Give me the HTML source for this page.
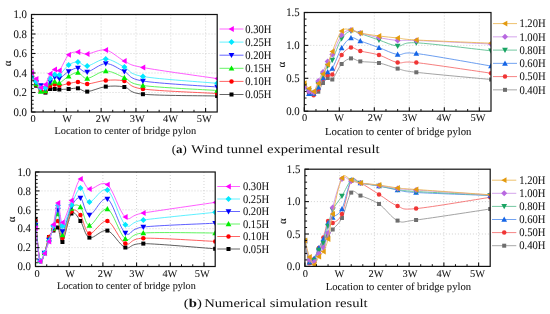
<!DOCTYPE html>
<html><head><meta charset="utf-8"><style>
html,body{margin:0;padding:0;background:#fff;}
body{width:550px;height:314px;overflow:hidden;}
svg{display:block;}
text{font-family:'Liberation Serif', 'Times New Roman', serif;fill:#111;stroke:#111;stroke-width:0.05px;text-rendering:geometricPrecision;}
</style></head><body>
<svg width="550" height="314" viewBox="0 0 550 314">
<rect width="550" height="314" fill="#fff"/>
<clipPath id="c0"><rect x="31.50" y="8.50" width="185.70" height="103.50"/></clipPath>
<line x1="31.50" y1="92.50" x2="217.20" y2="92.50" stroke="#c8c8c8" stroke-width="0.8" stroke-dasharray="1,2"/>
<line x1="31.50" y1="73.00" x2="217.20" y2="73.00" stroke="#c8c8c8" stroke-width="0.8" stroke-dasharray="1,2"/>
<line x1="31.50" y1="53.50" x2="217.20" y2="53.50" stroke="#c8c8c8" stroke-width="0.8" stroke-dasharray="1,2"/>
<line x1="31.50" y1="34.00" x2="217.20" y2="34.00" stroke="#c8c8c8" stroke-width="0.8" stroke-dasharray="1,2"/>
<line x1="66.32" y1="14.50" x2="66.32" y2="112.00" stroke="#c8c8c8" stroke-width="0.8" stroke-dasharray="1,2"/>
<line x1="101.14" y1="14.50" x2="101.14" y2="112.00" stroke="#c8c8c8" stroke-width="0.8" stroke-dasharray="1,2"/>
<line x1="135.96" y1="14.50" x2="135.96" y2="112.00" stroke="#c8c8c8" stroke-width="0.8" stroke-dasharray="1,2"/>
<line x1="170.78" y1="14.50" x2="170.78" y2="112.00" stroke="#c8c8c8" stroke-width="0.8" stroke-dasharray="1,2"/>
<line x1="205.59" y1="14.50" x2="205.59" y2="112.00" stroke="#c8c8c8" stroke-width="0.8" stroke-dasharray="1,2"/>
<g clip-path="url(#c0)">
<path d="M31.50,76.50 C32.27,78.03 34.59,83.28 36.14,85.70 C37.69,88.12 39.24,89.85 40.78,91.00 C42.33,92.15 43.88,92.93 45.43,92.60 C46.98,92.27 48.52,89.60 50.07,89.00 C51.62,88.40 53.16,88.92 54.71,89.00 C56.26,89.08 57.03,89.50 59.36,89.50 C61.68,89.50 65.55,89.20 68.64,89.00 C71.73,88.80 74.83,87.87 77.92,88.30 C81.02,88.73 82.57,91.88 87.21,91.60 C91.85,91.32 99.59,87.37 105.78,86.60 C111.97,85.83 118.16,85.73 124.35,87.00 C130.54,88.27 127.45,92.70 142.92,94.20 C158.40,95.70 204.82,95.70 217.20,96.00" fill="none" stroke="#4c4c4c" stroke-width="0.9"/>
<rect x="29.50" y="74.50" width="4.00" height="4.00" fill="#000000"/>
<rect x="34.14" y="83.70" width="4.00" height="4.00" fill="#000000"/>
<rect x="38.78" y="89.00" width="4.00" height="4.00" fill="#000000"/>
<rect x="43.43" y="90.60" width="4.00" height="4.00" fill="#000000"/>
<rect x="48.07" y="87.00" width="4.00" height="4.00" fill="#000000"/>
<rect x="52.71" y="87.00" width="4.00" height="4.00" fill="#000000"/>
<rect x="57.36" y="87.50" width="4.00" height="4.00" fill="#000000"/>
<rect x="66.64" y="87.00" width="4.00" height="4.00" fill="#000000"/>
<rect x="75.92" y="86.30" width="4.00" height="4.00" fill="#000000"/>
<rect x="85.21" y="89.60" width="4.00" height="4.00" fill="#000000"/>
<rect x="103.78" y="84.60" width="4.00" height="4.00" fill="#000000"/>
<rect x="122.35" y="85.00" width="4.00" height="4.00" fill="#000000"/>
<rect x="140.92" y="92.20" width="4.00" height="4.00" fill="#000000"/>
<rect x="215.20" y="94.00" width="4.00" height="4.00" fill="#000000"/>
<path d="M31.50,75.50 C32.27,77.00 34.59,81.92 36.14,84.50 C37.69,87.08 39.24,89.83 40.78,91.00 C42.33,92.17 43.88,92.33 45.43,91.50 C46.98,90.67 48.52,87.17 50.07,86.00 C51.62,84.83 53.16,84.58 54.71,84.50 C56.26,84.42 57.03,85.65 59.36,85.50 C61.68,85.35 65.55,84.18 68.64,83.60 C71.73,83.02 74.83,81.93 77.92,82.00 C81.02,82.07 82.57,84.27 87.21,84.00 C91.85,83.73 99.59,80.90 105.78,80.40 C111.97,79.90 118.16,79.57 124.35,81.00 C130.54,82.43 127.45,86.92 142.92,89.00 C158.40,91.08 204.82,92.75 217.20,93.50" fill="none" stroke="#ff4c4c" stroke-width="0.9"/>
<circle cx="31.50" cy="75.50" r="2.25" fill="#ff0000"/>
<circle cx="36.14" cy="84.50" r="2.25" fill="#ff0000"/>
<circle cx="40.78" cy="91.00" r="2.25" fill="#ff0000"/>
<circle cx="45.43" cy="91.50" r="2.25" fill="#ff0000"/>
<circle cx="50.07" cy="86.00" r="2.25" fill="#ff0000"/>
<circle cx="54.71" cy="84.50" r="2.25" fill="#ff0000"/>
<circle cx="59.36" cy="85.50" r="2.25" fill="#ff0000"/>
<circle cx="68.64" cy="83.60" r="2.25" fill="#ff0000"/>
<circle cx="77.92" cy="82.00" r="2.25" fill="#ff0000"/>
<circle cx="87.21" cy="84.00" r="2.25" fill="#ff0000"/>
<circle cx="105.78" cy="80.40" r="2.25" fill="#ff0000"/>
<circle cx="124.35" cy="81.00" r="2.25" fill="#ff0000"/>
<circle cx="142.92" cy="89.00" r="2.25" fill="#ff0000"/>
<circle cx="217.20" cy="93.50" r="2.25" fill="#ff0000"/>
<path d="M31.50,76.00 C32.27,77.33 34.59,81.42 36.14,84.00 C37.69,86.58 39.24,90.33 40.78,91.50 C42.33,92.67 43.88,92.42 45.43,91.00 C46.98,89.58 48.52,84.58 50.07,83.00 C51.62,81.42 53.16,81.50 54.71,81.50 C56.26,81.50 57.03,83.87 59.36,83.00 C61.68,82.13 65.55,78.05 68.64,76.30 C71.73,74.55 74.83,72.15 77.92,72.50 C81.02,72.85 82.57,78.65 87.21,78.40 C91.85,78.15 99.59,71.13 105.78,71.00 C111.97,70.87 118.16,75.18 124.35,77.60 C130.54,80.02 127.45,83.35 142.92,85.50 C158.40,87.65 204.82,89.67 217.20,90.50" fill="none" stroke="#4cf34c" stroke-width="0.9"/>
<polygon points="28.62,78.30 34.38,78.30 31.50,73.12" fill="#00ee00"/>
<polygon points="33.27,86.30 39.02,86.30 36.14,81.12" fill="#00ee00"/>
<polygon points="37.91,93.80 43.66,93.80 40.78,88.62" fill="#00ee00"/>
<polygon points="42.55,93.30 48.30,93.30 45.43,88.12" fill="#00ee00"/>
<polygon points="47.20,85.30 52.95,85.30 50.07,80.12" fill="#00ee00"/>
<polygon points="51.84,83.80 57.59,83.80 54.71,78.62" fill="#00ee00"/>
<polygon points="56.48,85.30 62.23,85.30 59.36,80.12" fill="#00ee00"/>
<polygon points="65.77,78.60 71.52,78.60 68.64,73.42" fill="#00ee00"/>
<polygon points="75.05,74.80 80.80,74.80 77.92,69.62" fill="#00ee00"/>
<polygon points="84.34,80.70 90.09,80.70 87.21,75.53" fill="#00ee00"/>
<polygon points="102.91,73.30 108.66,73.30 105.78,68.12" fill="#00ee00"/>
<polygon points="121.47,79.90 127.22,79.90 124.35,74.72" fill="#00ee00"/>
<polygon points="140.05,87.80 145.80,87.80 142.92,82.62" fill="#00ee00"/>
<polygon points="214.32,92.80 220.07,92.80 217.20,87.62" fill="#00ee00"/>
<path d="M31.50,73.50 C32.27,75.00 34.59,80.50 36.14,82.50 C37.69,84.50 39.24,84.50 40.78,85.50 C42.33,86.50 43.88,89.08 45.43,88.50 C46.98,87.92 48.52,83.92 50.07,82.00 C51.62,80.08 53.16,77.58 54.71,77.00 C56.26,76.42 57.03,79.42 59.36,78.50 C61.68,77.58 65.55,73.25 68.64,71.50 C71.73,69.75 74.83,67.92 77.92,68.00 C81.02,68.08 82.57,72.73 87.21,72.00 C91.85,71.27 99.59,63.67 105.78,63.60 C111.97,63.53 118.16,68.70 124.35,71.60 C130.54,74.50 127.45,78.43 142.92,81.00 C158.40,83.57 204.82,86.00 217.20,87.00" fill="none" stroke="#4c4cff" stroke-width="0.9"/>
<polygon points="28.62,71.20 34.38,71.20 31.50,76.38" fill="#0000ff"/>
<polygon points="33.27,80.20 39.02,80.20 36.14,85.38" fill="#0000ff"/>
<polygon points="37.91,83.20 43.66,83.20 40.78,88.38" fill="#0000ff"/>
<polygon points="42.55,86.20 48.30,86.20 45.43,91.38" fill="#0000ff"/>
<polygon points="47.20,79.70 52.95,79.70 50.07,84.88" fill="#0000ff"/>
<polygon points="51.84,74.70 57.59,74.70 54.71,79.88" fill="#0000ff"/>
<polygon points="56.48,76.20 62.23,76.20 59.36,81.38" fill="#0000ff"/>
<polygon points="65.77,69.20 71.52,69.20 68.64,74.38" fill="#0000ff"/>
<polygon points="75.05,65.70 80.80,65.70 77.92,70.88" fill="#0000ff"/>
<polygon points="84.34,69.70 90.09,69.70 87.21,74.88" fill="#0000ff"/>
<polygon points="102.91,61.30 108.66,61.30 105.78,66.47" fill="#0000ff"/>
<polygon points="121.47,69.30 127.22,69.30 124.35,74.47" fill="#0000ff"/>
<polygon points="140.05,78.70 145.80,78.70 142.92,83.88" fill="#0000ff"/>
<polygon points="214.32,84.70 220.07,84.70 217.20,89.88" fill="#0000ff"/>
<path d="M31.50,77.00 C32.27,77.78 34.59,79.87 36.14,81.70 C37.69,83.53 39.24,87.00 40.78,88.00 C42.33,89.00 43.88,89.28 45.43,87.70 C46.98,86.12 48.52,80.70 50.07,78.50 C51.62,76.30 53.16,75.08 54.71,74.50 C56.26,73.92 57.03,76.58 59.36,75.00 C61.68,73.42 65.55,67.17 68.64,65.00 C71.73,62.83 74.83,61.83 77.92,62.00 C81.02,62.17 82.57,66.50 87.21,66.00 C91.85,65.50 99.59,58.83 105.78,59.00 C111.97,59.17 118.16,64.08 124.35,67.00 C130.54,69.92 127.45,73.78 142.92,76.50 C158.40,79.22 204.82,82.17 217.20,83.30" fill="none" stroke="#4ceeff" stroke-width="0.9"/>
<polygon points="31.50,74.00 34.50,77.00 31.50,80.00 28.50,77.00" fill="#00e8ff"/>
<polygon points="36.14,78.70 39.14,81.70 36.14,84.70 33.14,81.70" fill="#00e8ff"/>
<polygon points="40.78,85.00 43.78,88.00 40.78,91.00 37.78,88.00" fill="#00e8ff"/>
<polygon points="45.43,84.70 48.43,87.70 45.43,90.70 42.43,87.70" fill="#00e8ff"/>
<polygon points="50.07,75.50 53.07,78.50 50.07,81.50 47.07,78.50" fill="#00e8ff"/>
<polygon points="54.71,71.50 57.71,74.50 54.71,77.50 51.71,74.50" fill="#00e8ff"/>
<polygon points="59.36,72.00 62.36,75.00 59.36,78.00 56.36,75.00" fill="#00e8ff"/>
<polygon points="68.64,62.00 71.64,65.00 68.64,68.00 65.64,65.00" fill="#00e8ff"/>
<polygon points="77.92,59.00 80.92,62.00 77.92,65.00 74.92,62.00" fill="#00e8ff"/>
<polygon points="87.21,63.00 90.21,66.00 87.21,69.00 84.21,66.00" fill="#00e8ff"/>
<polygon points="105.78,56.00 108.78,59.00 105.78,62.00 102.78,59.00" fill="#00e8ff"/>
<polygon points="124.35,64.00 127.35,67.00 124.35,70.00 121.35,67.00" fill="#00e8ff"/>
<polygon points="142.92,73.50 145.92,76.50 142.92,79.50 139.92,76.50" fill="#00e8ff"/>
<polygon points="217.20,80.30 220.20,83.30 217.20,86.30 214.20,83.30" fill="#00e8ff"/>
<path d="M31.50,72.60 C32.27,73.63 34.59,76.28 36.14,78.80 C37.69,81.32 39.24,86.75 40.78,87.70 C42.33,88.65 43.88,86.82 45.43,84.50 C46.98,82.18 48.52,76.30 50.07,73.80 C51.62,71.30 53.16,70.05 54.71,69.50 C56.26,68.95 57.03,72.95 59.36,70.50 C61.68,68.05 65.55,57.88 68.64,54.80 C71.73,51.72 74.83,52.13 77.92,52.00 C81.02,51.87 82.57,54.33 87.21,54.00 C91.85,53.67 99.59,48.83 105.78,50.00 C111.97,51.17 118.16,58.08 124.35,61.00 C130.54,63.92 127.45,64.57 142.92,67.50 C158.40,70.43 204.82,76.75 217.20,78.60" fill="none" stroke="#ff4cff" stroke-width="0.9"/>
<polygon points="28.62,72.60 33.80,69.72 33.80,75.47" fill="#ff00ff"/>
<polygon points="33.27,78.80 38.44,75.92 38.44,81.67" fill="#ff00ff"/>
<polygon points="37.91,87.70 43.08,84.83 43.08,90.58" fill="#ff00ff"/>
<polygon points="42.55,84.50 47.73,81.62 47.73,87.38" fill="#ff00ff"/>
<polygon points="47.20,73.80 52.37,70.92 52.37,76.67" fill="#ff00ff"/>
<polygon points="51.84,69.50 57.01,66.62 57.01,72.38" fill="#ff00ff"/>
<polygon points="56.48,70.50 61.66,67.62 61.66,73.38" fill="#ff00ff"/>
<polygon points="65.77,54.80 70.94,51.92 70.94,57.67" fill="#ff00ff"/>
<polygon points="75.05,52.00 80.22,49.12 80.22,54.88" fill="#ff00ff"/>
<polygon points="84.34,54.00 89.51,51.12 89.51,56.88" fill="#ff00ff"/>
<polygon points="102.91,50.00 108.08,47.12 108.08,52.88" fill="#ff00ff"/>
<polygon points="121.47,61.00 126.65,58.12 126.65,63.88" fill="#ff00ff"/>
<polygon points="140.05,67.50 145.22,64.62 145.22,70.38" fill="#ff00ff"/>
<polygon points="214.32,78.60 219.50,75.72 219.50,81.47" fill="#ff00ff"/>
</g>
<line x1="31.50" y1="112.00" x2="35.50" y2="112.00" stroke="#111" stroke-width="1.1"/>
<line x1="31.50" y1="108.10" x2="33.70" y2="108.10" stroke="#111" stroke-width="1"/>
<line x1="31.50" y1="104.20" x2="33.70" y2="104.20" stroke="#111" stroke-width="1"/>
<line x1="31.50" y1="100.30" x2="33.70" y2="100.30" stroke="#111" stroke-width="1"/>
<line x1="31.50" y1="96.40" x2="33.70" y2="96.40" stroke="#111" stroke-width="1"/>
<text x="0" y="3.45" text-anchor="end" font-size="10.6" transform="translate(26.90 112.00) scale(1.02 1.1)">0.0</text>
<line x1="31.50" y1="92.50" x2="35.50" y2="92.50" stroke="#111" stroke-width="1.1"/>
<line x1="31.50" y1="88.60" x2="33.70" y2="88.60" stroke="#111" stroke-width="1"/>
<line x1="31.50" y1="84.70" x2="33.70" y2="84.70" stroke="#111" stroke-width="1"/>
<line x1="31.50" y1="80.80" x2="33.70" y2="80.80" stroke="#111" stroke-width="1"/>
<line x1="31.50" y1="76.90" x2="33.70" y2="76.90" stroke="#111" stroke-width="1"/>
<text x="0" y="3.45" text-anchor="end" font-size="10.6" transform="translate(26.90 92.50) scale(1.02 1.1)">0.2</text>
<line x1="31.50" y1="73.00" x2="35.50" y2="73.00" stroke="#111" stroke-width="1.1"/>
<line x1="31.50" y1="69.10" x2="33.70" y2="69.10" stroke="#111" stroke-width="1"/>
<line x1="31.50" y1="65.20" x2="33.70" y2="65.20" stroke="#111" stroke-width="1"/>
<line x1="31.50" y1="61.30" x2="33.70" y2="61.30" stroke="#111" stroke-width="1"/>
<line x1="31.50" y1="57.40" x2="33.70" y2="57.40" stroke="#111" stroke-width="1"/>
<text x="0" y="3.45" text-anchor="end" font-size="10.6" transform="translate(26.90 73.00) scale(1.02 1.1)">0.4</text>
<line x1="31.50" y1="53.50" x2="35.50" y2="53.50" stroke="#111" stroke-width="1.1"/>
<line x1="31.50" y1="49.60" x2="33.70" y2="49.60" stroke="#111" stroke-width="1"/>
<line x1="31.50" y1="45.70" x2="33.70" y2="45.70" stroke="#111" stroke-width="1"/>
<line x1="31.50" y1="41.80" x2="33.70" y2="41.80" stroke="#111" stroke-width="1"/>
<line x1="31.50" y1="37.90" x2="33.70" y2="37.90" stroke="#111" stroke-width="1"/>
<text x="0" y="3.45" text-anchor="end" font-size="10.6" transform="translate(26.90 53.50) scale(1.02 1.1)">0.6</text>
<line x1="31.50" y1="34.00" x2="35.50" y2="34.00" stroke="#111" stroke-width="1.1"/>
<line x1="31.50" y1="30.10" x2="33.70" y2="30.10" stroke="#111" stroke-width="1"/>
<line x1="31.50" y1="26.20" x2="33.70" y2="26.20" stroke="#111" stroke-width="1"/>
<line x1="31.50" y1="22.30" x2="33.70" y2="22.30" stroke="#111" stroke-width="1"/>
<line x1="31.50" y1="18.40" x2="33.70" y2="18.40" stroke="#111" stroke-width="1"/>
<text x="0" y="3.45" text-anchor="end" font-size="10.6" transform="translate(26.90 34.00) scale(1.02 1.1)">0.8</text>
<line x1="31.50" y1="14.50" x2="35.50" y2="14.50" stroke="#111" stroke-width="1.1"/>
<text x="0" y="3.45" text-anchor="end" font-size="10.6" transform="translate(26.90 14.50) scale(1.02 1.1)">1.0</text>
<line x1="31.50" y1="112.00" x2="31.50" y2="108.00" stroke="#111" stroke-width="1.1"/>
<line x1="43.11" y1="112.00" x2="43.11" y2="109.80" stroke="#111" stroke-width="1"/>
<line x1="54.71" y1="112.00" x2="54.71" y2="109.80" stroke="#111" stroke-width="1"/>
<text x="33.20" y="121.80" text-anchor="middle" font-size="10.4">0</text>
<line x1="66.32" y1="112.00" x2="66.32" y2="108.00" stroke="#111" stroke-width="1.1"/>
<line x1="77.92" y1="112.00" x2="77.92" y2="109.80" stroke="#111" stroke-width="1"/>
<line x1="89.53" y1="112.00" x2="89.53" y2="109.80" stroke="#111" stroke-width="1"/>
<text x="67.25" y="121.80" text-anchor="middle" font-size="10.4">W</text>
<line x1="101.14" y1="112.00" x2="101.14" y2="108.00" stroke="#111" stroke-width="1.1"/>
<line x1="112.74" y1="112.00" x2="112.74" y2="109.80" stroke="#111" stroke-width="1"/>
<line x1="124.35" y1="112.00" x2="124.35" y2="109.80" stroke="#111" stroke-width="1"/>
<text x="103.25" y="121.80" text-anchor="middle" font-size="10.4">2W</text>
<line x1="135.96" y1="112.00" x2="135.96" y2="108.00" stroke="#111" stroke-width="1.1"/>
<line x1="147.56" y1="112.00" x2="147.56" y2="109.80" stroke="#111" stroke-width="1"/>
<line x1="159.17" y1="112.00" x2="159.17" y2="109.80" stroke="#111" stroke-width="1"/>
<text x="137.25" y="121.80" text-anchor="middle" font-size="10.4">3W</text>
<line x1="170.78" y1="112.00" x2="170.78" y2="108.00" stroke="#111" stroke-width="1.1"/>
<line x1="182.38" y1="112.00" x2="182.38" y2="109.80" stroke="#111" stroke-width="1"/>
<line x1="193.99" y1="112.00" x2="193.99" y2="109.80" stroke="#111" stroke-width="1"/>
<text x="170.50" y="121.80" text-anchor="middle" font-size="10.4">4W</text>
<line x1="205.59" y1="112.00" x2="205.59" y2="108.00" stroke="#111" stroke-width="1.1"/>
<text x="204.25" y="121.80" text-anchor="middle" font-size="10.4">5W</text>
<rect x="31.50" y="14.50" width="185.70" height="97.50" fill="none" stroke="#111" stroke-width="1.2"/>
<text x="0" y="0" font-size="11" text-anchor="middle" dominant-baseline="central" transform="translate(7.60 63.30) rotate(-90)">α</text>
<text x="54.40" y="134.00" font-size="10.36">Location to center of bridge pylon</text>
<line x1="219.50" y1="29.00" x2="243.50" y2="29.00" stroke="#ff66ff" stroke-width="1"/>
<polygon points="228.62,29.00 233.80,26.12 233.80,31.88" fill="#ff00ff"/>
<text x="0" y="3.45" font-size="10.6" transform="translate(245.20 29.00) scale(1.0 1.1)">0.30H</text>
<line x1="219.50" y1="42.10" x2="243.50" y2="42.10" stroke="#66f1ff" stroke-width="1"/>
<polygon points="231.50,39.10 234.50,42.10 231.50,45.10 228.50,42.10" fill="#00e8ff"/>
<text x="0" y="3.45" font-size="10.6" transform="translate(245.20 42.10) scale(1.0 1.1)">0.25H</text>
<line x1="219.50" y1="55.20" x2="243.50" y2="55.20" stroke="#6666ff" stroke-width="1"/>
<polygon points="228.62,52.90 234.38,52.90 231.50,58.08" fill="#0000ff"/>
<text x="0" y="3.45" font-size="10.6" transform="translate(245.20 55.20) scale(1.0 1.1)">0.20H</text>
<line x1="219.50" y1="68.30" x2="243.50" y2="68.30" stroke="#66f466" stroke-width="1"/>
<polygon points="228.62,70.60 234.38,70.60 231.50,65.42" fill="#00ee00"/>
<text x="0" y="3.45" font-size="10.6" transform="translate(245.20 68.30) scale(1.0 1.1)">0.15H</text>
<line x1="219.50" y1="81.40" x2="243.50" y2="81.40" stroke="#ff6666" stroke-width="1"/>
<circle cx="231.50" cy="81.40" r="2.25" fill="#ff0000"/>
<text x="0" y="3.45" font-size="10.6" transform="translate(245.20 81.40) scale(1.0 1.1)">0.10H</text>
<line x1="219.50" y1="94.50" x2="243.50" y2="94.50" stroke="#666666" stroke-width="1"/>
<rect x="229.50" y="92.50" width="4.00" height="4.00" fill="#000000"/>
<text x="0" y="3.45" font-size="10.6" transform="translate(245.20 94.50) scale(1.0 1.1)">0.05H</text>
<clipPath id="c1"><rect x="304.30" y="6.50" width="186.70" height="104.70"/></clipPath>
<line x1="304.30" y1="78.30" x2="491.00" y2="78.30" stroke="#c8c8c8" stroke-width="0.8" stroke-dasharray="1,2"/>
<line x1="304.30" y1="45.40" x2="491.00" y2="45.40" stroke="#c8c8c8" stroke-width="0.8" stroke-dasharray="1,2"/>
<line x1="339.31" y1="12.50" x2="339.31" y2="111.20" stroke="#c8c8c8" stroke-width="0.8" stroke-dasharray="1,2"/>
<line x1="374.31" y1="12.50" x2="374.31" y2="111.20" stroke="#c8c8c8" stroke-width="0.8" stroke-dasharray="1,2"/>
<line x1="409.32" y1="12.50" x2="409.32" y2="111.20" stroke="#c8c8c8" stroke-width="0.8" stroke-dasharray="1,2"/>
<line x1="444.33" y1="12.50" x2="444.33" y2="111.20" stroke="#c8c8c8" stroke-width="0.8" stroke-dasharray="1,2"/>
<line x1="479.33" y1="12.50" x2="479.33" y2="111.20" stroke="#c8c8c8" stroke-width="0.8" stroke-dasharray="1,2"/>
<g clip-path="url(#c1)">
<path d="M304.30,86.50 C305.08,87.50 307.41,91.25 308.97,92.50 C310.52,93.75 312.08,94.13 313.63,94.00 C315.19,93.87 316.75,93.53 318.30,91.70 C319.86,89.87 321.41,85.28 322.97,83.00 C324.53,80.72 326.08,78.58 327.64,78.00 C329.19,77.42 329.97,81.83 332.31,79.50 C334.64,77.17 338.53,67.52 341.64,64.00 C344.75,60.48 347.86,58.83 350.98,58.40 C354.09,57.97 355.64,60.63 360.31,61.40 C364.98,62.17 372.76,61.80 378.98,63.00 C385.20,64.20 391.43,67.05 397.65,68.60 C403.87,70.15 400.76,70.48 416.32,72.30 C431.88,74.12 478.55,78.30 491.00,79.50" fill="none" stroke="#999999" stroke-width="0.9"/>
<rect x="302.30" y="84.50" width="4.00" height="4.00" fill="#6e6e6e"/>
<rect x="306.97" y="90.50" width="4.00" height="4.00" fill="#6e6e6e"/>
<rect x="311.63" y="92.00" width="4.00" height="4.00" fill="#6e6e6e"/>
<rect x="316.30" y="89.70" width="4.00" height="4.00" fill="#6e6e6e"/>
<rect x="320.97" y="81.00" width="4.00" height="4.00" fill="#6e6e6e"/>
<rect x="325.64" y="76.00" width="4.00" height="4.00" fill="#6e6e6e"/>
<rect x="330.31" y="77.50" width="4.00" height="4.00" fill="#6e6e6e"/>
<rect x="339.64" y="62.00" width="4.00" height="4.00" fill="#6e6e6e"/>
<rect x="348.98" y="56.40" width="4.00" height="4.00" fill="#6e6e6e"/>
<rect x="358.31" y="59.40" width="4.00" height="4.00" fill="#6e6e6e"/>
<rect x="376.98" y="61.00" width="4.00" height="4.00" fill="#6e6e6e"/>
<rect x="395.65" y="66.60" width="4.00" height="4.00" fill="#6e6e6e"/>
<rect x="414.32" y="70.30" width="4.00" height="4.00" fill="#6e6e6e"/>
<rect x="489.00" y="77.50" width="4.00" height="4.00" fill="#6e6e6e"/>
<path d="M304.30,86.00 C305.08,87.08 307.41,90.97 308.97,92.50 C310.52,94.03 312.08,95.75 313.63,95.20 C315.19,94.65 316.75,91.90 318.30,89.20 C319.86,86.50 321.41,81.37 322.97,79.00 C324.53,76.63 326.08,75.75 327.64,75.00 C329.19,74.25 329.97,77.83 332.31,74.50 C334.64,71.17 338.53,59.48 341.64,55.00 C344.75,50.52 347.86,48.27 350.98,47.60 C354.09,46.93 355.64,49.77 360.31,51.00 C364.98,52.23 372.76,53.07 378.98,55.00 C385.20,56.93 391.43,61.33 397.65,62.60 C403.87,63.87 400.76,60.83 416.32,62.60 C431.88,64.37 478.55,71.43 491.00,73.20" fill="none" stroke="#f47171" stroke-width="0.9"/>
<circle cx="304.30" cy="86.00" r="2.25" fill="#f03535"/>
<circle cx="308.97" cy="92.50" r="2.25" fill="#f03535"/>
<circle cx="313.63" cy="95.20" r="2.25" fill="#f03535"/>
<circle cx="318.30" cy="89.20" r="2.25" fill="#f03535"/>
<circle cx="322.97" cy="79.00" r="2.25" fill="#f03535"/>
<circle cx="327.64" cy="75.00" r="2.25" fill="#f03535"/>
<circle cx="332.31" cy="74.50" r="2.25" fill="#f03535"/>
<circle cx="341.64" cy="55.00" r="2.25" fill="#f03535"/>
<circle cx="350.98" cy="47.60" r="2.25" fill="#f03535"/>
<circle cx="360.31" cy="51.00" r="2.25" fill="#f03535"/>
<circle cx="378.98" cy="55.00" r="2.25" fill="#f03535"/>
<circle cx="397.65" cy="62.60" r="2.25" fill="#f03535"/>
<circle cx="416.32" cy="62.60" r="2.25" fill="#f03535"/>
<circle cx="491.00" cy="73.20" r="2.25" fill="#f03535"/>
<path d="M304.30,86.50 C305.08,87.72 307.41,92.63 308.97,93.80 C310.52,94.97 312.08,94.60 313.63,93.50 C315.19,92.40 316.75,89.78 318.30,87.20 C319.86,84.62 321.41,80.53 322.97,78.00 C324.53,75.47 326.08,73.58 327.64,72.00 C329.19,70.42 329.97,72.50 332.31,68.50 C334.64,64.50 338.53,53.08 341.64,48.00 C344.75,42.92 347.86,39.17 350.98,38.00 C354.09,36.83 355.64,39.40 360.31,41.00 C364.98,42.60 372.76,45.35 378.98,47.60 C385.20,49.85 391.43,53.52 397.65,54.50 C403.87,55.48 400.76,51.58 416.32,53.50 C431.88,55.42 478.55,63.92 491.00,66.00" fill="none" stroke="#5b93ed" stroke-width="0.9"/>
<polygon points="301.43,88.80 307.18,88.80 304.30,83.62" fill="#1565e6"/>
<polygon points="306.09,96.10 311.84,96.10 308.97,90.92" fill="#1565e6"/>
<polygon points="310.76,95.80 316.51,95.80 313.63,90.62" fill="#1565e6"/>
<polygon points="315.43,89.50 321.18,89.50 318.30,84.33" fill="#1565e6"/>
<polygon points="320.10,80.30 325.85,80.30 322.97,75.12" fill="#1565e6"/>
<polygon points="324.76,74.30 330.51,74.30 327.64,69.12" fill="#1565e6"/>
<polygon points="329.43,70.80 335.18,70.80 332.31,65.62" fill="#1565e6"/>
<polygon points="338.76,50.30 344.51,50.30 341.64,45.12" fill="#1565e6"/>
<polygon points="348.10,40.30 353.85,40.30 350.98,35.12" fill="#1565e6"/>
<polygon points="357.44,43.30 363.19,43.30 360.31,38.12" fill="#1565e6"/>
<polygon points="376.11,49.90 381.86,49.90 378.98,44.73" fill="#1565e6"/>
<polygon points="394.77,56.80 400.52,56.80 397.65,51.62" fill="#1565e6"/>
<polygon points="413.45,55.80 419.20,55.80 416.32,50.62" fill="#1565e6"/>
<polygon points="488.12,68.30 493.88,68.30 491.00,63.12" fill="#1565e6"/>
<path d="M304.30,85.50 C305.08,86.33 307.41,89.25 308.97,90.50 C310.52,91.75 312.08,94.08 313.63,93.00 C315.19,91.92 316.75,87.00 318.30,84.00 C319.86,81.00 321.41,78.00 322.97,75.00 C324.53,72.00 326.08,68.50 327.64,66.00 C329.19,63.50 329.97,64.57 332.31,60.00 C334.64,55.43 338.53,43.43 341.64,38.60 C344.75,33.77 347.86,31.83 350.98,31.00 C354.09,30.17 355.64,32.10 360.31,33.60 C364.98,35.10 372.76,37.93 378.98,40.00 C385.20,42.07 391.43,45.53 397.65,46.00 C403.87,46.47 400.76,42.00 416.32,42.80 C431.88,43.60 478.55,49.47 491.00,50.80" fill="none" stroke="#5ebf91" stroke-width="0.9"/>
<polygon points="301.43,83.20 307.18,83.20 304.30,88.38" fill="#19a463"/>
<polygon points="306.09,88.20 311.84,88.20 308.97,93.38" fill="#19a463"/>
<polygon points="310.76,90.70 316.51,90.70 313.63,95.88" fill="#19a463"/>
<polygon points="315.43,81.70 321.18,81.70 318.30,86.88" fill="#19a463"/>
<polygon points="320.10,72.70 325.85,72.70 322.97,77.88" fill="#19a463"/>
<polygon points="324.76,63.70 330.51,63.70 327.64,68.88" fill="#19a463"/>
<polygon points="329.43,57.70 335.18,57.70 332.31,62.88" fill="#19a463"/>
<polygon points="338.76,36.30 344.51,36.30 341.64,41.48" fill="#19a463"/>
<polygon points="348.10,28.70 353.85,28.70 350.98,33.88" fill="#19a463"/>
<polygon points="357.44,31.30 363.19,31.30 360.31,36.48" fill="#19a463"/>
<polygon points="376.11,37.70 381.86,37.70 378.98,42.88" fill="#19a463"/>
<polygon points="394.77,43.70 400.52,43.70 397.65,48.88" fill="#19a463"/>
<polygon points="413.45,40.50 419.20,40.50 416.32,45.67" fill="#19a463"/>
<polygon points="488.12,48.50 493.88,48.50 491.00,53.67" fill="#19a463"/>
<path d="M304.30,87.20 C305.08,87.87 307.41,90.32 308.97,91.20 C310.52,92.08 312.08,94.20 313.63,92.50 C315.19,90.80 316.75,84.42 318.30,81.00 C319.86,77.58 321.41,75.25 322.97,72.00 C324.53,68.75 326.08,64.42 327.64,61.50 C329.19,58.58 329.97,58.92 332.31,54.50 C334.64,50.08 338.53,39.08 341.64,35.00 C344.75,30.92 347.86,30.33 350.98,30.00 C354.09,29.67 355.64,31.73 360.31,33.00 C364.98,34.27 372.76,36.35 378.98,37.60 C385.20,38.85 391.43,40.02 397.65,40.50 C403.87,40.98 400.76,39.92 416.32,40.50 C431.88,41.08 478.55,43.42 491.00,44.00" fill="none" stroke="#cd95e9" stroke-width="0.9"/>
<polygon points="304.30,84.20 307.30,87.20 304.30,90.20 301.30,87.20" fill="#b868e0"/>
<polygon points="308.97,88.20 311.97,91.20 308.97,94.20 305.97,91.20" fill="#b868e0"/>
<polygon points="313.63,89.50 316.63,92.50 313.63,95.50 310.63,92.50" fill="#b868e0"/>
<polygon points="318.30,78.00 321.30,81.00 318.30,84.00 315.30,81.00" fill="#b868e0"/>
<polygon points="322.97,69.00 325.97,72.00 322.97,75.00 319.97,72.00" fill="#b868e0"/>
<polygon points="327.64,58.50 330.64,61.50 327.64,64.50 324.64,61.50" fill="#b868e0"/>
<polygon points="332.31,51.50 335.31,54.50 332.31,57.50 329.31,54.50" fill="#b868e0"/>
<polygon points="341.64,32.00 344.64,35.00 341.64,38.00 338.64,35.00" fill="#b868e0"/>
<polygon points="350.98,27.00 353.98,30.00 350.98,33.00 347.98,30.00" fill="#b868e0"/>
<polygon points="360.31,30.00 363.31,33.00 360.31,36.00 357.31,33.00" fill="#b868e0"/>
<polygon points="378.98,34.60 381.98,37.60 378.98,40.60 375.98,37.60" fill="#b868e0"/>
<polygon points="397.65,37.50 400.65,40.50 397.65,43.50 394.65,40.50" fill="#b868e0"/>
<polygon points="416.32,37.50 419.32,40.50 416.32,43.50 413.32,40.50" fill="#b868e0"/>
<polygon points="491.00,41.00 494.00,44.00 491.00,47.00 488.00,44.00" fill="#b868e0"/>
<path d="M304.30,83.20 C305.08,84.10 307.41,87.22 308.97,88.60 C310.52,89.98 312.08,92.37 313.63,91.50 C315.19,90.63 316.75,86.32 318.30,83.40 C319.86,80.48 321.41,77.15 322.97,74.00 C324.53,70.85 326.08,68.25 327.64,64.50 C329.19,60.75 329.97,57.08 332.31,51.50 C334.64,45.92 338.53,34.58 341.64,31.00 C344.75,27.42 347.86,29.67 350.98,30.00 C354.09,30.33 355.64,32.00 360.31,33.00 C364.98,34.00 372.76,35.17 378.98,36.00 C385.20,36.83 391.43,37.33 397.65,38.00 C403.87,38.67 400.76,39.13 416.32,40.00 C431.88,40.87 478.55,42.67 491.00,43.20" fill="none" stroke="#ebb857" stroke-width="0.9"/>
<polygon points="301.43,83.20 306.60,80.33 306.60,86.08" fill="#e39a0f"/>
<polygon points="306.09,88.60 311.27,85.72 311.27,91.47" fill="#e39a0f"/>
<polygon points="310.76,91.50 315.94,88.62 315.94,94.38" fill="#e39a0f"/>
<polygon points="315.43,83.40 320.60,80.53 320.60,86.28" fill="#e39a0f"/>
<polygon points="320.10,74.00 325.27,71.12 325.27,76.88" fill="#e39a0f"/>
<polygon points="324.76,64.50 329.94,61.62 329.94,67.38" fill="#e39a0f"/>
<polygon points="329.43,51.50 334.61,48.62 334.61,54.38" fill="#e39a0f"/>
<polygon points="338.76,31.00 343.94,28.12 343.94,33.88" fill="#e39a0f"/>
<polygon points="348.10,30.00 353.28,27.12 353.28,32.88" fill="#e39a0f"/>
<polygon points="357.44,33.00 362.61,30.12 362.61,35.88" fill="#e39a0f"/>
<polygon points="376.11,36.00 381.28,33.12 381.28,38.88" fill="#e39a0f"/>
<polygon points="394.77,38.00 399.95,35.12 399.95,40.88" fill="#e39a0f"/>
<polygon points="413.45,40.00 418.62,37.12 418.62,42.88" fill="#e39a0f"/>
<polygon points="488.12,43.20 493.30,40.33 493.30,46.08" fill="#e39a0f"/>
</g>
<line x1="304.30" y1="111.20" x2="308.30" y2="111.20" stroke="#111" stroke-width="1.1"/>
<line x1="304.30" y1="104.62" x2="306.50" y2="104.62" stroke="#111" stroke-width="1"/>
<line x1="304.30" y1="98.04" x2="306.50" y2="98.04" stroke="#111" stroke-width="1"/>
<line x1="304.30" y1="91.46" x2="306.50" y2="91.46" stroke="#111" stroke-width="1"/>
<line x1="304.30" y1="84.88" x2="306.50" y2="84.88" stroke="#111" stroke-width="1"/>
<text x="0" y="3.45" text-anchor="end" font-size="10.6" transform="translate(299.70 111.20) scale(1.02 1.1)">0.0</text>
<line x1="304.30" y1="78.30" x2="308.30" y2="78.30" stroke="#111" stroke-width="1.1"/>
<line x1="304.30" y1="71.72" x2="306.50" y2="71.72" stroke="#111" stroke-width="1"/>
<line x1="304.30" y1="65.14" x2="306.50" y2="65.14" stroke="#111" stroke-width="1"/>
<line x1="304.30" y1="58.56" x2="306.50" y2="58.56" stroke="#111" stroke-width="1"/>
<line x1="304.30" y1="51.98" x2="306.50" y2="51.98" stroke="#111" stroke-width="1"/>
<text x="0" y="3.45" text-anchor="end" font-size="10.6" transform="translate(299.70 78.30) scale(1.02 1.1)">0.5</text>
<line x1="304.30" y1="45.40" x2="308.30" y2="45.40" stroke="#111" stroke-width="1.1"/>
<line x1="304.30" y1="38.82" x2="306.50" y2="38.82" stroke="#111" stroke-width="1"/>
<line x1="304.30" y1="32.24" x2="306.50" y2="32.24" stroke="#111" stroke-width="1"/>
<line x1="304.30" y1="25.66" x2="306.50" y2="25.66" stroke="#111" stroke-width="1"/>
<line x1="304.30" y1="19.08" x2="306.50" y2="19.08" stroke="#111" stroke-width="1"/>
<text x="0" y="3.45" text-anchor="end" font-size="10.6" transform="translate(299.70 45.40) scale(1.02 1.1)">1.0</text>
<line x1="304.30" y1="12.50" x2="308.30" y2="12.50" stroke="#111" stroke-width="1.1"/>
<text x="0" y="3.45" text-anchor="end" font-size="10.6" transform="translate(299.70 12.50) scale(1.02 1.1)">1.5</text>
<line x1="304.30" y1="111.20" x2="304.30" y2="107.20" stroke="#111" stroke-width="1.1"/>
<line x1="315.97" y1="111.20" x2="315.97" y2="109.00" stroke="#111" stroke-width="1"/>
<line x1="327.64" y1="111.20" x2="327.64" y2="109.00" stroke="#111" stroke-width="1"/>
<text x="304.60" y="121.00" text-anchor="middle" font-size="10.4">0</text>
<line x1="339.31" y1="111.20" x2="339.31" y2="107.20" stroke="#111" stroke-width="1.1"/>
<line x1="350.98" y1="111.20" x2="350.98" y2="109.00" stroke="#111" stroke-width="1"/>
<line x1="362.64" y1="111.20" x2="362.64" y2="109.00" stroke="#111" stroke-width="1"/>
<text x="339.25" y="121.00" text-anchor="middle" font-size="10.4">W</text>
<line x1="374.31" y1="111.20" x2="374.31" y2="107.20" stroke="#111" stroke-width="1.1"/>
<line x1="385.98" y1="111.20" x2="385.98" y2="109.00" stroke="#111" stroke-width="1"/>
<line x1="397.65" y1="111.20" x2="397.65" y2="109.00" stroke="#111" stroke-width="1"/>
<text x="375.25" y="121.00" text-anchor="middle" font-size="10.4">2W</text>
<line x1="409.32" y1="111.20" x2="409.32" y2="107.20" stroke="#111" stroke-width="1.1"/>
<line x1="420.99" y1="111.20" x2="420.99" y2="109.00" stroke="#111" stroke-width="1"/>
<line x1="432.66" y1="111.20" x2="432.66" y2="109.00" stroke="#111" stroke-width="1"/>
<text x="409.75" y="121.00" text-anchor="middle" font-size="10.4">3W</text>
<line x1="444.33" y1="111.20" x2="444.33" y2="107.20" stroke="#111" stroke-width="1.1"/>
<line x1="455.99" y1="111.20" x2="455.99" y2="109.00" stroke="#111" stroke-width="1"/>
<line x1="467.66" y1="111.20" x2="467.66" y2="109.00" stroke="#111" stroke-width="1"/>
<text x="443.90" y="121.00" text-anchor="middle" font-size="10.4">4W</text>
<line x1="479.33" y1="111.20" x2="479.33" y2="107.20" stroke="#111" stroke-width="1.1"/>
<text x="478.00" y="121.00" text-anchor="middle" font-size="10.4">5W</text>
<rect x="304.30" y="12.50" width="186.70" height="98.70" fill="none" stroke="#111" stroke-width="1.2"/>
<text x="0" y="0" font-size="11" text-anchor="middle" dominant-baseline="central" transform="translate(281.70 64.50) rotate(-90)">α</text>
<text x="325.10" y="135.30" font-size="10.69">Location to center of bridge pylon</text>
<line x1="493.00" y1="23.60" x2="517.00" y2="23.60" stroke="#eec26f" stroke-width="1"/>
<polygon points="502.12,23.60 507.30,20.73 507.30,26.48" fill="#e39a0f"/>
<text x="0" y="3.45" font-size="10.6" transform="translate(519.40 23.60) scale(1.0 1.1)">1.20H</text>
<line x1="493.00" y1="36.85" x2="517.00" y2="36.85" stroke="#d4a4ec" stroke-width="1"/>
<polygon points="505.00,33.85 508.00,36.85 505.00,39.85 502.00,36.85" fill="#b868e0"/>
<text x="0" y="3.45" font-size="10.6" transform="translate(519.40 36.85) scale(1.0 1.1)">1.00H</text>
<line x1="493.00" y1="50.10" x2="517.00" y2="50.10" stroke="#75c8a1" stroke-width="1"/>
<polygon points="502.12,47.80 507.88,47.80 505.00,52.98" fill="#19a463"/>
<text x="0" y="3.45" font-size="10.6" transform="translate(519.40 50.10) scale(1.0 1.1)">0.80H</text>
<line x1="493.00" y1="63.35" x2="517.00" y2="63.35" stroke="#72a2f0" stroke-width="1"/>
<polygon points="502.12,65.65 507.88,65.65 505.00,60.48" fill="#1565e6"/>
<text x="0" y="3.45" font-size="10.6" transform="translate(519.40 63.35) scale(1.0 1.1)">0.60H</text>
<line x1="493.00" y1="76.60" x2="517.00" y2="76.60" stroke="#f68585" stroke-width="1"/>
<circle cx="505.00" cy="76.60" r="2.25" fill="#f03535"/>
<text x="0" y="3.45" font-size="10.6" transform="translate(519.40 76.60) scale(1.0 1.1)">0.50H</text>
<line x1="493.00" y1="89.85" x2="517.00" y2="89.85" stroke="#a8a8a8" stroke-width="1"/>
<rect x="503.00" y="87.85" width="4.00" height="4.00" fill="#6e6e6e"/>
<text x="0" y="3.45" font-size="10.6" transform="translate(519.40 89.85) scale(1.0 1.1)">0.40H</text>
<clipPath id="c2"><rect x="35.50" y="166.00" width="179.70" height="100.50"/></clipPath>
<line x1="35.50" y1="247.60" x2="215.20" y2="247.60" stroke="#c8c8c8" stroke-width="0.8" stroke-dasharray="1,2"/>
<line x1="35.50" y1="228.70" x2="215.20" y2="228.70" stroke="#c8c8c8" stroke-width="0.8" stroke-dasharray="1,2"/>
<line x1="35.50" y1="209.80" x2="215.20" y2="209.80" stroke="#c8c8c8" stroke-width="0.8" stroke-dasharray="1,2"/>
<line x1="35.50" y1="190.90" x2="215.20" y2="190.90" stroke="#c8c8c8" stroke-width="0.8" stroke-dasharray="1,2"/>
<line x1="69.19" y1="172.00" x2="69.19" y2="266.50" stroke="#c8c8c8" stroke-width="0.8" stroke-dasharray="1,2"/>
<line x1="102.89" y1="172.00" x2="102.89" y2="266.50" stroke="#c8c8c8" stroke-width="0.8" stroke-dasharray="1,2"/>
<line x1="136.58" y1="172.00" x2="136.58" y2="266.50" stroke="#c8c8c8" stroke-width="0.8" stroke-dasharray="1,2"/>
<line x1="170.28" y1="172.00" x2="170.28" y2="266.50" stroke="#c8c8c8" stroke-width="0.8" stroke-dasharray="1,2"/>
<line x1="203.97" y1="172.00" x2="203.97" y2="266.50" stroke="#c8c8c8" stroke-width="0.8" stroke-dasharray="1,2"/>
<g clip-path="url(#c2)">
<path d="M35.50,219.00 C36.25,226.00 38.49,255.33 39.99,261.00 C41.49,266.67 42.99,257.00 44.48,253.00 C45.98,249.00 47.48,240.75 48.98,237.00 C50.48,233.25 51.97,232.08 53.47,230.50 C54.97,228.92 56.46,225.58 57.96,227.50 C59.46,229.42 60.21,244.33 62.45,242.00 C64.70,239.67 68.44,217.00 71.44,213.50 C74.44,210.00 77.43,216.98 80.42,221.00 C83.42,225.02 84.92,236.00 89.41,237.60 C93.90,239.20 101.39,228.95 107.38,230.60 C113.37,232.25 119.36,245.33 125.35,247.50 C131.34,249.67 128.34,243.38 143.32,243.60 C158.29,243.82 203.22,247.93 215.20,248.80" fill="none" stroke="#4c4c4c" stroke-width="0.9"/>
<rect x="33.50" y="217.00" width="4.00" height="4.00" fill="#000000"/>
<rect x="37.99" y="259.00" width="4.00" height="4.00" fill="#000000"/>
<rect x="42.48" y="251.00" width="4.00" height="4.00" fill="#000000"/>
<rect x="46.98" y="235.00" width="4.00" height="4.00" fill="#000000"/>
<rect x="51.47" y="228.50" width="4.00" height="4.00" fill="#000000"/>
<rect x="55.96" y="225.50" width="4.00" height="4.00" fill="#000000"/>
<rect x="60.45" y="240.00" width="4.00" height="4.00" fill="#000000"/>
<rect x="69.44" y="211.50" width="4.00" height="4.00" fill="#000000"/>
<rect x="78.42" y="219.00" width="4.00" height="4.00" fill="#000000"/>
<rect x="87.41" y="235.60" width="4.00" height="4.00" fill="#000000"/>
<rect x="105.38" y="228.60" width="4.00" height="4.00" fill="#000000"/>
<rect x="123.35" y="245.50" width="4.00" height="4.00" fill="#000000"/>
<rect x="141.32" y="241.60" width="4.00" height="4.00" fill="#000000"/>
<rect x="213.20" y="246.80" width="4.00" height="4.00" fill="#000000"/>
<path d="M35.50,221.00 C36.25,227.67 38.49,255.67 39.99,261.00 C41.49,266.33 42.99,257.00 44.48,253.00 C45.98,249.00 47.48,240.92 48.98,237.00 C50.48,233.08 51.97,232.17 53.47,229.50 C54.97,226.83 56.46,219.58 57.96,221.00 C59.46,222.42 60.21,239.58 62.45,238.00 C64.70,236.42 68.44,215.33 71.44,211.50 C74.44,207.67 77.43,211.32 80.42,215.00 C83.42,218.68 84.92,232.60 89.41,233.60 C93.90,234.60 101.39,219.33 107.38,221.00 C113.37,222.67 119.36,240.73 125.35,243.60 C131.34,246.47 128.34,238.57 143.32,238.20 C158.29,237.83 203.22,240.87 215.20,241.40" fill="none" stroke="#ff4c4c" stroke-width="0.9"/>
<circle cx="35.50" cy="221.00" r="2.25" fill="#ff0000"/>
<circle cx="39.99" cy="261.00" r="2.25" fill="#ff0000"/>
<circle cx="44.48" cy="253.00" r="2.25" fill="#ff0000"/>
<circle cx="48.98" cy="237.00" r="2.25" fill="#ff0000"/>
<circle cx="53.47" cy="229.50" r="2.25" fill="#ff0000"/>
<circle cx="57.96" cy="221.00" r="2.25" fill="#ff0000"/>
<circle cx="62.45" cy="238.00" r="2.25" fill="#ff0000"/>
<circle cx="71.44" cy="211.50" r="2.25" fill="#ff0000"/>
<circle cx="80.42" cy="215.00" r="2.25" fill="#ff0000"/>
<circle cx="89.41" cy="233.60" r="2.25" fill="#ff0000"/>
<circle cx="107.38" cy="221.00" r="2.25" fill="#ff0000"/>
<circle cx="125.35" cy="243.60" r="2.25" fill="#ff0000"/>
<circle cx="143.32" cy="238.20" r="2.25" fill="#ff0000"/>
<circle cx="215.20" cy="241.40" r="2.25" fill="#ff0000"/>
<path d="M35.50,223.00 C36.25,229.33 38.49,256.00 39.99,261.00 C41.49,266.00 42.99,256.67 44.48,253.00 C45.98,249.33 47.48,243.08 48.98,239.00 C50.48,234.92 51.97,232.67 53.47,228.50 C54.97,224.33 56.46,212.92 57.96,214.00 C59.46,215.08 60.21,235.92 62.45,235.00 C64.70,234.08 68.44,213.17 71.44,208.50 C74.44,203.83 77.43,204.17 80.42,207.00 C83.42,209.83 84.92,225.17 89.41,225.50 C93.90,225.83 101.39,206.82 107.38,209.00 C113.37,211.18 119.36,234.60 125.35,238.60 C131.34,242.60 128.34,233.93 143.32,233.00 C158.29,232.07 203.22,233.00 215.20,233.00" fill="none" stroke="#4cf34c" stroke-width="0.9"/>
<polygon points="32.62,225.30 38.38,225.30 35.50,220.12" fill="#00ee00"/>
<polygon points="37.12,263.30 42.87,263.30 39.99,258.12" fill="#00ee00"/>
<polygon points="41.61,255.30 47.36,255.30 44.48,250.12" fill="#00ee00"/>
<polygon points="46.10,241.30 51.85,241.30 48.98,236.12" fill="#00ee00"/>
<polygon points="50.59,230.80 56.34,230.80 53.47,225.62" fill="#00ee00"/>
<polygon points="55.09,216.30 60.84,216.30 57.96,211.12" fill="#00ee00"/>
<polygon points="59.58,237.30 65.33,237.30 62.45,232.12" fill="#00ee00"/>
<polygon points="68.56,210.80 74.31,210.80 71.44,205.62" fill="#00ee00"/>
<polygon points="77.55,209.30 83.30,209.30 80.42,204.12" fill="#00ee00"/>
<polygon points="86.53,227.80 92.28,227.80 89.41,222.62" fill="#00ee00"/>
<polygon points="104.51,211.30 110.26,211.30 107.38,206.12" fill="#00ee00"/>
<polygon points="122.47,240.90 128.22,240.90 125.35,235.72" fill="#00ee00"/>
<polygon points="140.44,235.30 146.19,235.30 143.32,230.12" fill="#00ee00"/>
<polygon points="212.32,235.30 218.07,235.30 215.20,230.12" fill="#00ee00"/>
<path d="M35.50,225.00 C36.25,231.00 38.49,256.33 39.99,261.00 C41.49,265.67 42.99,256.50 44.48,253.00 C45.98,249.50 47.48,244.25 48.98,240.00 C50.48,235.75 51.97,232.50 53.47,227.50 C54.97,222.50 56.46,209.33 57.96,210.00 C59.46,210.67 60.21,232.08 62.45,231.50 C64.70,230.92 68.44,212.08 71.44,206.50 C74.44,200.92 77.43,196.58 80.42,198.00 C83.42,199.42 84.92,214.83 89.41,215.00 C93.90,215.17 101.39,196.00 107.38,199.00 C113.37,202.00 119.36,228.33 125.35,233.00 C131.34,237.67 128.34,228.63 143.32,227.00 C158.29,225.37 203.22,223.83 215.20,223.20" fill="none" stroke="#4c4cff" stroke-width="0.9"/>
<polygon points="32.62,222.70 38.38,222.70 35.50,227.88" fill="#0000ff"/>
<polygon points="37.12,258.70 42.87,258.70 39.99,263.88" fill="#0000ff"/>
<polygon points="41.61,250.70 47.36,250.70 44.48,255.88" fill="#0000ff"/>
<polygon points="46.10,237.70 51.85,237.70 48.98,242.88" fill="#0000ff"/>
<polygon points="50.59,225.20 56.34,225.20 53.47,230.38" fill="#0000ff"/>
<polygon points="55.09,207.70 60.84,207.70 57.96,212.88" fill="#0000ff"/>
<polygon points="59.58,229.20 65.33,229.20 62.45,234.38" fill="#0000ff"/>
<polygon points="68.56,204.20 74.31,204.20 71.44,209.38" fill="#0000ff"/>
<polygon points="77.55,195.70 83.30,195.70 80.42,200.88" fill="#0000ff"/>
<polygon points="86.53,212.70 92.28,212.70 89.41,217.88" fill="#0000ff"/>
<polygon points="104.51,196.70 110.26,196.70 107.38,201.88" fill="#0000ff"/>
<polygon points="122.47,230.70 128.22,230.70 125.35,235.88" fill="#0000ff"/>
<polygon points="140.44,224.70 146.19,224.70 143.32,229.88" fill="#0000ff"/>
<polygon points="212.32,220.90 218.07,220.90 215.20,226.07" fill="#0000ff"/>
<path d="M35.50,226.00 C36.25,231.83 38.49,256.50 39.99,261.00 C41.49,265.50 42.99,256.33 44.48,253.00 C45.98,249.67 47.48,245.50 48.98,241.00 C50.48,236.50 51.97,231.92 53.47,226.00 C54.97,220.08 56.46,205.50 57.96,205.50 C59.46,205.50 60.21,226.08 62.45,226.00 C64.70,225.92 68.44,211.33 71.44,205.00 C74.44,198.67 77.43,188.50 80.42,188.00 C83.42,187.50 84.92,201.67 89.41,202.00 C93.90,202.33 101.39,186.22 107.38,190.00 C113.37,193.78 119.36,219.70 125.35,224.70 C131.34,229.70 128.34,222.07 143.32,220.00 C158.29,217.93 203.22,213.58 215.20,212.30" fill="none" stroke="#4ceeff" stroke-width="0.9"/>
<polygon points="35.50,223.00 38.50,226.00 35.50,229.00 32.50,226.00" fill="#00e8ff"/>
<polygon points="39.99,258.00 42.99,261.00 39.99,264.00 36.99,261.00" fill="#00e8ff"/>
<polygon points="44.48,250.00 47.48,253.00 44.48,256.00 41.48,253.00" fill="#00e8ff"/>
<polygon points="48.98,238.00 51.98,241.00 48.98,244.00 45.98,241.00" fill="#00e8ff"/>
<polygon points="53.47,223.00 56.47,226.00 53.47,229.00 50.47,226.00" fill="#00e8ff"/>
<polygon points="57.96,202.50 60.96,205.50 57.96,208.50 54.96,205.50" fill="#00e8ff"/>
<polygon points="62.45,223.00 65.45,226.00 62.45,229.00 59.45,226.00" fill="#00e8ff"/>
<polygon points="71.44,202.00 74.44,205.00 71.44,208.00 68.44,205.00" fill="#00e8ff"/>
<polygon points="80.42,185.00 83.42,188.00 80.42,191.00 77.42,188.00" fill="#00e8ff"/>
<polygon points="89.41,199.00 92.41,202.00 89.41,205.00 86.41,202.00" fill="#00e8ff"/>
<polygon points="107.38,187.00 110.38,190.00 107.38,193.00 104.38,190.00" fill="#00e8ff"/>
<polygon points="125.35,221.70 128.35,224.70 125.35,227.70 122.35,224.70" fill="#00e8ff"/>
<polygon points="143.32,217.00 146.32,220.00 143.32,223.00 140.32,220.00" fill="#00e8ff"/>
<polygon points="215.20,209.30 218.20,212.30 215.20,215.30 212.20,212.30" fill="#00e8ff"/>
<path d="M35.50,228.00 C36.25,233.57 38.49,257.17 39.99,261.40 C41.49,265.63 42.99,256.72 44.48,253.40 C45.98,250.08 47.48,246.32 48.98,241.50 C50.48,236.68 51.97,230.92 53.47,224.50 C54.97,218.08 56.46,203.35 57.96,203.00 C59.46,202.65 60.21,222.82 62.45,222.40 C64.70,221.98 68.44,207.73 71.44,200.50 C74.44,193.27 77.43,180.92 80.42,179.00 C83.42,177.08 84.92,188.07 89.41,189.00 C93.90,189.93 101.39,179.93 107.38,184.60 C113.37,189.27 119.36,212.27 125.35,217.00 C131.34,221.73 128.34,215.43 143.32,213.00 C158.29,210.57 203.22,204.17 215.20,202.40" fill="none" stroke="#ff4cff" stroke-width="0.9"/>
<polygon points="32.62,228.00 37.80,225.12 37.80,230.88" fill="#ff00ff"/>
<polygon points="37.12,261.40 42.29,258.52 42.29,264.27" fill="#ff00ff"/>
<polygon points="41.61,253.40 46.78,250.53 46.78,256.27" fill="#ff00ff"/>
<polygon points="46.10,241.50 51.28,238.62 51.28,244.38" fill="#ff00ff"/>
<polygon points="50.59,224.50 55.77,221.62 55.77,227.38" fill="#ff00ff"/>
<polygon points="55.09,203.00 60.26,200.12 60.26,205.88" fill="#ff00ff"/>
<polygon points="59.58,222.40 64.75,219.53 64.75,225.28" fill="#ff00ff"/>
<polygon points="68.56,200.50 73.74,197.62 73.74,203.38" fill="#ff00ff"/>
<polygon points="77.55,179.00 82.72,176.12 82.72,181.88" fill="#ff00ff"/>
<polygon points="86.53,189.00 91.71,186.12 91.71,191.88" fill="#ff00ff"/>
<polygon points="104.51,184.60 109.68,181.72 109.68,187.47" fill="#ff00ff"/>
<polygon points="122.47,217.00 127.65,214.12 127.65,219.88" fill="#ff00ff"/>
<polygon points="140.44,213.00 145.62,210.12 145.62,215.88" fill="#ff00ff"/>
<polygon points="212.32,202.40 217.50,199.53 217.50,205.28" fill="#ff00ff"/>
</g>
<line x1="35.50" y1="266.50" x2="39.50" y2="266.50" stroke="#111" stroke-width="1.1"/>
<line x1="35.50" y1="262.72" x2="37.70" y2="262.72" stroke="#111" stroke-width="1"/>
<line x1="35.50" y1="258.94" x2="37.70" y2="258.94" stroke="#111" stroke-width="1"/>
<line x1="35.50" y1="255.16" x2="37.70" y2="255.16" stroke="#111" stroke-width="1"/>
<line x1="35.50" y1="251.38" x2="37.70" y2="251.38" stroke="#111" stroke-width="1"/>
<text x="0" y="3.45" text-anchor="end" font-size="10.6" transform="translate(30.90 266.50) scale(1.02 1.1)">0.0</text>
<line x1="35.50" y1="247.60" x2="39.50" y2="247.60" stroke="#111" stroke-width="1.1"/>
<line x1="35.50" y1="243.82" x2="37.70" y2="243.82" stroke="#111" stroke-width="1"/>
<line x1="35.50" y1="240.04" x2="37.70" y2="240.04" stroke="#111" stroke-width="1"/>
<line x1="35.50" y1="236.26" x2="37.70" y2="236.26" stroke="#111" stroke-width="1"/>
<line x1="35.50" y1="232.48" x2="37.70" y2="232.48" stroke="#111" stroke-width="1"/>
<text x="0" y="3.45" text-anchor="end" font-size="10.6" transform="translate(30.90 247.60) scale(1.02 1.1)">0.2</text>
<line x1="35.50" y1="228.70" x2="39.50" y2="228.70" stroke="#111" stroke-width="1.1"/>
<line x1="35.50" y1="224.92" x2="37.70" y2="224.92" stroke="#111" stroke-width="1"/>
<line x1="35.50" y1="221.14" x2="37.70" y2="221.14" stroke="#111" stroke-width="1"/>
<line x1="35.50" y1="217.36" x2="37.70" y2="217.36" stroke="#111" stroke-width="1"/>
<line x1="35.50" y1="213.58" x2="37.70" y2="213.58" stroke="#111" stroke-width="1"/>
<text x="0" y="3.45" text-anchor="end" font-size="10.6" transform="translate(30.90 228.70) scale(1.02 1.1)">0.4</text>
<line x1="35.50" y1="209.80" x2="39.50" y2="209.80" stroke="#111" stroke-width="1.1"/>
<line x1="35.50" y1="206.02" x2="37.70" y2="206.02" stroke="#111" stroke-width="1"/>
<line x1="35.50" y1="202.24" x2="37.70" y2="202.24" stroke="#111" stroke-width="1"/>
<line x1="35.50" y1="198.46" x2="37.70" y2="198.46" stroke="#111" stroke-width="1"/>
<line x1="35.50" y1="194.68" x2="37.70" y2="194.68" stroke="#111" stroke-width="1"/>
<text x="0" y="3.45" text-anchor="end" font-size="10.6" transform="translate(30.90 209.80) scale(1.02 1.1)">0.6</text>
<line x1="35.50" y1="190.90" x2="39.50" y2="190.90" stroke="#111" stroke-width="1.1"/>
<line x1="35.50" y1="187.12" x2="37.70" y2="187.12" stroke="#111" stroke-width="1"/>
<line x1="35.50" y1="183.34" x2="37.70" y2="183.34" stroke="#111" stroke-width="1"/>
<line x1="35.50" y1="179.56" x2="37.70" y2="179.56" stroke="#111" stroke-width="1"/>
<line x1="35.50" y1="175.78" x2="37.70" y2="175.78" stroke="#111" stroke-width="1"/>
<text x="0" y="3.45" text-anchor="end" font-size="10.6" transform="translate(30.90 190.90) scale(1.02 1.1)">0.8</text>
<line x1="35.50" y1="172.00" x2="39.50" y2="172.00" stroke="#111" stroke-width="1.1"/>
<text x="0" y="3.45" text-anchor="end" font-size="10.6" transform="translate(30.90 172.00) scale(1.02 1.1)">1.0</text>
<line x1="35.50" y1="266.50" x2="35.50" y2="262.50" stroke="#111" stroke-width="1.1"/>
<line x1="46.73" y1="266.50" x2="46.73" y2="264.30" stroke="#111" stroke-width="1"/>
<line x1="57.96" y1="266.50" x2="57.96" y2="264.30" stroke="#111" stroke-width="1"/>
<text x="37.00" y="276.50" text-anchor="middle" font-size="10.4">0</text>
<line x1="69.19" y1="266.50" x2="69.19" y2="262.50" stroke="#111" stroke-width="1.1"/>
<line x1="80.42" y1="266.50" x2="80.42" y2="264.30" stroke="#111" stroke-width="1"/>
<line x1="91.66" y1="266.50" x2="91.66" y2="264.30" stroke="#111" stroke-width="1"/>
<text x="70.25" y="276.50" text-anchor="middle" font-size="10.4">W</text>
<line x1="102.89" y1="266.50" x2="102.89" y2="262.50" stroke="#111" stroke-width="1.1"/>
<line x1="114.12" y1="266.50" x2="114.12" y2="264.30" stroke="#111" stroke-width="1"/>
<line x1="125.35" y1="266.50" x2="125.35" y2="264.30" stroke="#111" stroke-width="1"/>
<text x="105.25" y="276.50" text-anchor="middle" font-size="10.4">2W</text>
<line x1="136.58" y1="266.50" x2="136.58" y2="262.50" stroke="#111" stroke-width="1.1"/>
<line x1="147.81" y1="266.50" x2="147.81" y2="264.30" stroke="#111" stroke-width="1"/>
<line x1="159.04" y1="266.50" x2="159.04" y2="264.30" stroke="#111" stroke-width="1"/>
<text x="136.70" y="276.50" text-anchor="middle" font-size="10.4">3W</text>
<line x1="170.28" y1="266.50" x2="170.28" y2="262.50" stroke="#111" stroke-width="1.1"/>
<line x1="181.51" y1="266.50" x2="181.51" y2="264.30" stroke="#111" stroke-width="1"/>
<line x1="192.74" y1="266.50" x2="192.74" y2="264.30" stroke="#111" stroke-width="1"/>
<text x="169.90" y="276.50" text-anchor="middle" font-size="10.4">4W</text>
<line x1="203.97" y1="266.50" x2="203.97" y2="262.50" stroke="#111" stroke-width="1.1"/>
<text x="202.20" y="276.50" text-anchor="middle" font-size="10.4">5W</text>
<rect x="35.50" y="172.00" width="179.70" height="94.50" fill="none" stroke="#111" stroke-width="1.2"/>
<text x="0" y="0" font-size="11" text-anchor="middle" dominant-baseline="central" transform="translate(12.10 219.30) rotate(-90)">α</text>
<text x="57.10" y="288.50" font-size="10.14">Location to center of bridge pylon</text>
<line x1="217.30" y1="186.50" x2="240.00" y2="186.50" stroke="#ff66ff" stroke-width="1"/>
<polygon points="225.62,186.50 230.80,183.62 230.80,189.38" fill="#ff00ff"/>
<text x="0" y="3.45" font-size="10.6" transform="translate(242.90 186.50) scale(1.0 1.1)">0.30H</text>
<line x1="217.30" y1="199.00" x2="240.00" y2="199.00" stroke="#66f1ff" stroke-width="1"/>
<polygon points="228.50,196.00 231.50,199.00 228.50,202.00 225.50,199.00" fill="#00e8ff"/>
<text x="0" y="3.45" font-size="10.6" transform="translate(242.90 199.00) scale(1.0 1.1)">0.25H</text>
<line x1="217.30" y1="211.50" x2="240.00" y2="211.50" stroke="#6666ff" stroke-width="1"/>
<polygon points="225.62,209.20 231.38,209.20 228.50,214.38" fill="#0000ff"/>
<text x="0" y="3.45" font-size="10.6" transform="translate(242.90 211.50) scale(1.0 1.1)">0.20H</text>
<line x1="217.30" y1="224.00" x2="240.00" y2="224.00" stroke="#66f466" stroke-width="1"/>
<polygon points="225.62,226.30 231.38,226.30 228.50,221.12" fill="#00ee00"/>
<text x="0" y="3.45" font-size="10.6" transform="translate(242.90 224.00) scale(1.0 1.1)">0.15H</text>
<line x1="217.30" y1="236.50" x2="240.00" y2="236.50" stroke="#ff6666" stroke-width="1"/>
<circle cx="228.50" cy="236.50" r="2.25" fill="#ff0000"/>
<text x="0" y="3.45" font-size="10.6" transform="translate(242.90 236.50) scale(1.0 1.1)">0.10H</text>
<line x1="217.30" y1="249.00" x2="240.00" y2="249.00" stroke="#666666" stroke-width="1"/>
<rect x="226.50" y="247.00" width="4.00" height="4.00" fill="#000000"/>
<text x="0" y="3.45" font-size="10.6" transform="translate(242.90 249.00) scale(1.0 1.1)">0.05H</text>
<clipPath id="c3"><rect x="304.90" y="163.20" width="185.30" height="103.20"/></clipPath>
<line x1="304.90" y1="234.00" x2="490.20" y2="234.00" stroke="#c8c8c8" stroke-width="0.8" stroke-dasharray="1,2"/>
<line x1="304.90" y1="201.60" x2="490.20" y2="201.60" stroke="#c8c8c8" stroke-width="0.8" stroke-dasharray="1,2"/>
<line x1="339.64" y1="169.20" x2="339.64" y2="266.40" stroke="#c8c8c8" stroke-width="0.8" stroke-dasharray="1,2"/>
<line x1="374.39" y1="169.20" x2="374.39" y2="266.40" stroke="#c8c8c8" stroke-width="0.8" stroke-dasharray="1,2"/>
<line x1="409.13" y1="169.20" x2="409.13" y2="266.40" stroke="#c8c8c8" stroke-width="0.8" stroke-dasharray="1,2"/>
<line x1="443.88" y1="169.20" x2="443.88" y2="266.40" stroke="#c8c8c8" stroke-width="0.8" stroke-dasharray="1,2"/>
<line x1="478.62" y1="169.20" x2="478.62" y2="266.40" stroke="#c8c8c8" stroke-width="0.8" stroke-dasharray="1,2"/>
<g clip-path="url(#c3)">
<path d="M304.90,241.00 C305.67,244.67 307.99,259.83 309.53,263.00 C311.08,266.17 312.62,262.00 314.16,260.00 C315.71,258.00 317.25,253.67 318.80,251.00 C320.34,248.33 321.89,246.50 323.43,244.00 C324.97,241.50 326.52,238.42 328.06,236.00 C329.61,233.58 330.38,232.50 332.69,229.50 C335.01,226.50 338.87,224.15 341.96,218.00 C345.05,211.85 348.14,196.33 351.22,192.60 C354.31,188.87 355.86,193.70 360.49,195.60 C365.12,197.50 372.84,199.83 379.02,204.00 C385.20,208.17 391.37,217.93 397.55,220.60 C403.73,223.27 400.64,221.93 416.08,220.00 C431.52,218.07 477.85,210.83 490.20,209.00" fill="none" stroke="#999999" stroke-width="0.9"/>
<rect x="302.90" y="239.00" width="4.00" height="4.00" fill="#6e6e6e"/>
<rect x="307.53" y="261.00" width="4.00" height="4.00" fill="#6e6e6e"/>
<rect x="312.16" y="258.00" width="4.00" height="4.00" fill="#6e6e6e"/>
<rect x="316.80" y="249.00" width="4.00" height="4.00" fill="#6e6e6e"/>
<rect x="321.43" y="242.00" width="4.00" height="4.00" fill="#6e6e6e"/>
<rect x="326.06" y="234.00" width="4.00" height="4.00" fill="#6e6e6e"/>
<rect x="330.69" y="227.50" width="4.00" height="4.00" fill="#6e6e6e"/>
<rect x="339.96" y="216.00" width="4.00" height="4.00" fill="#6e6e6e"/>
<rect x="349.22" y="190.60" width="4.00" height="4.00" fill="#6e6e6e"/>
<rect x="358.49" y="193.60" width="4.00" height="4.00" fill="#6e6e6e"/>
<rect x="377.02" y="202.00" width="4.00" height="4.00" fill="#6e6e6e"/>
<rect x="395.55" y="218.60" width="4.00" height="4.00" fill="#6e6e6e"/>
<rect x="414.08" y="218.00" width="4.00" height="4.00" fill="#6e6e6e"/>
<rect x="488.20" y="207.00" width="4.00" height="4.00" fill="#6e6e6e"/>
<path d="M304.90,241.00 C305.67,244.72 307.99,260.30 309.53,263.30 C311.08,266.30 312.62,261.55 314.16,259.00 C315.71,256.45 317.25,251.58 318.80,248.00 C320.34,244.42 321.89,242.00 323.43,237.50 C324.97,233.00 326.52,223.42 328.06,221.00 C329.61,218.58 330.38,224.17 332.69,223.00 C335.01,221.83 338.87,221.00 341.96,214.00 C345.05,207.00 348.14,186.17 351.22,181.00 C354.31,175.83 355.86,180.77 360.49,183.00 C365.12,185.23 372.84,190.57 379.02,194.40 C385.20,198.23 391.37,203.63 397.55,206.00 C403.73,208.37 400.64,210.05 416.08,208.60 C431.52,207.15 477.85,199.18 490.20,197.30" fill="none" stroke="#f47171" stroke-width="0.9"/>
<circle cx="304.90" cy="241.00" r="2.25" fill="#f03535"/>
<circle cx="309.53" cy="263.30" r="2.25" fill="#f03535"/>
<circle cx="314.16" cy="259.00" r="2.25" fill="#f03535"/>
<circle cx="318.80" cy="248.00" r="2.25" fill="#f03535"/>
<circle cx="323.43" cy="237.50" r="2.25" fill="#f03535"/>
<circle cx="328.06" cy="221.00" r="2.25" fill="#f03535"/>
<circle cx="332.69" cy="223.00" r="2.25" fill="#f03535"/>
<circle cx="341.96" cy="214.00" r="2.25" fill="#f03535"/>
<circle cx="351.22" cy="181.00" r="2.25" fill="#f03535"/>
<circle cx="360.49" cy="183.00" r="2.25" fill="#f03535"/>
<circle cx="379.02" cy="194.40" r="2.25" fill="#f03535"/>
<circle cx="397.55" cy="206.00" r="2.25" fill="#f03535"/>
<circle cx="416.08" cy="208.60" r="2.25" fill="#f03535"/>
<circle cx="490.20" cy="197.30" r="2.25" fill="#f03535"/>
<path d="M304.90,241.00 C305.67,244.53 307.99,259.28 309.53,262.20 C311.08,265.12 312.62,260.87 314.16,258.50 C315.71,256.13 317.25,251.25 318.80,248.00 C320.34,244.75 321.89,243.17 323.43,239.00 C324.97,234.83 326.52,226.58 328.06,223.00 C329.61,219.42 330.38,219.83 332.69,217.50 C335.01,215.17 338.87,215.25 341.96,209.00 C345.05,202.75 348.14,184.33 351.22,180.00 C354.31,175.67 355.86,182.00 360.49,183.00 C365.12,184.00 372.84,184.83 379.02,186.00 C385.20,187.17 391.37,188.92 397.55,190.00 C403.73,191.08 400.64,191.58 416.08,192.50 C431.52,193.42 477.85,195.00 490.20,195.50" fill="none" stroke="#5b93ed" stroke-width="0.9"/>
<polygon points="302.02,243.30 307.77,243.30 304.90,238.12" fill="#1565e6"/>
<polygon points="306.66,264.50 312.41,264.50 309.53,259.32" fill="#1565e6"/>
<polygon points="311.29,260.80 317.04,260.80 314.16,255.62" fill="#1565e6"/>
<polygon points="315.92,250.30 321.67,250.30 318.80,245.12" fill="#1565e6"/>
<polygon points="320.56,241.30 326.31,241.30 323.43,236.12" fill="#1565e6"/>
<polygon points="325.19,225.30 330.94,225.30 328.06,220.12" fill="#1565e6"/>
<polygon points="329.82,219.80 335.57,219.80 332.69,214.62" fill="#1565e6"/>
<polygon points="339.08,211.30 344.83,211.30 341.96,206.12" fill="#1565e6"/>
<polygon points="348.35,182.30 354.10,182.30 351.22,177.12" fill="#1565e6"/>
<polygon points="357.62,185.30 363.37,185.30 360.49,180.12" fill="#1565e6"/>
<polygon points="376.14,188.30 381.89,188.30 379.02,183.12" fill="#1565e6"/>
<polygon points="394.68,192.30 400.43,192.30 397.55,187.12" fill="#1565e6"/>
<polygon points="413.20,194.80 418.95,194.80 416.08,189.62" fill="#1565e6"/>
<polygon points="487.33,197.80 493.08,197.80 490.20,192.62" fill="#1565e6"/>
<path d="M304.90,241.00 C305.67,244.33 307.99,257.77 309.53,261.00 C311.08,264.23 312.62,262.23 314.16,260.40 C315.71,258.57 317.25,252.90 318.80,250.00 C320.34,247.10 321.89,247.00 323.43,243.00 C324.97,239.00 326.52,231.50 328.06,226.00 C329.61,220.50 330.38,215.00 332.69,210.00 C335.01,205.00 338.87,200.92 341.96,196.00 C345.05,191.08 348.14,182.67 351.22,180.50 C354.31,178.33 355.86,182.08 360.49,183.00 C365.12,183.92 372.84,184.92 379.02,186.00 C385.20,187.08 391.37,188.58 397.55,189.50 C403.73,190.42 400.64,190.55 416.08,191.50 C431.52,192.45 477.85,194.58 490.20,195.20" fill="none" stroke="#5ebf91" stroke-width="0.9"/>
<polygon points="302.02,238.70 307.77,238.70 304.90,243.88" fill="#19a463"/>
<polygon points="306.66,258.70 312.41,258.70 309.53,263.88" fill="#19a463"/>
<polygon points="311.29,258.10 317.04,258.10 314.16,263.27" fill="#19a463"/>
<polygon points="315.92,247.70 321.67,247.70 318.80,252.88" fill="#19a463"/>
<polygon points="320.56,240.70 326.31,240.70 323.43,245.88" fill="#19a463"/>
<polygon points="325.19,223.70 330.94,223.70 328.06,228.88" fill="#19a463"/>
<polygon points="329.82,207.70 335.57,207.70 332.69,212.88" fill="#19a463"/>
<polygon points="339.08,193.70 344.83,193.70 341.96,198.88" fill="#19a463"/>
<polygon points="348.35,178.20 354.10,178.20 351.22,183.38" fill="#19a463"/>
<polygon points="357.62,180.70 363.37,180.70 360.49,185.88" fill="#19a463"/>
<polygon points="376.14,183.70 381.89,183.70 379.02,188.88" fill="#19a463"/>
<polygon points="394.68,187.20 400.43,187.20 397.55,192.38" fill="#19a463"/>
<polygon points="413.20,189.20 418.95,189.20 416.08,194.38" fill="#19a463"/>
<polygon points="487.33,192.90 493.08,192.90 490.20,198.07" fill="#19a463"/>
<path d="M304.90,241.00 C305.67,244.17 307.99,256.50 309.53,260.00 C311.08,263.50 312.62,263.03 314.16,262.00 C315.71,260.97 317.25,256.22 318.80,253.80 C320.34,251.38 321.89,250.97 323.43,247.50 C324.97,244.03 326.52,239.67 328.06,233.00 C329.61,226.33 330.38,216.50 332.69,207.50 C335.01,198.50 338.87,183.42 341.96,179.00 C345.05,174.58 348.14,180.33 351.22,181.00 C354.31,181.67 355.86,182.25 360.49,183.00 C365.12,183.75 372.84,184.58 379.02,185.50 C385.20,186.42 391.37,187.75 397.55,188.50 C403.73,189.25 400.64,188.92 416.08,190.00 C431.52,191.08 477.85,194.17 490.20,195.00" fill="none" stroke="#cd95e9" stroke-width="0.9"/>
<polygon points="304.90,238.00 307.90,241.00 304.90,244.00 301.90,241.00" fill="#b868e0"/>
<polygon points="309.53,257.00 312.53,260.00 309.53,263.00 306.53,260.00" fill="#b868e0"/>
<polygon points="314.16,259.00 317.16,262.00 314.16,265.00 311.16,262.00" fill="#b868e0"/>
<polygon points="318.80,250.80 321.80,253.80 318.80,256.80 315.80,253.80" fill="#b868e0"/>
<polygon points="323.43,244.50 326.43,247.50 323.43,250.50 320.43,247.50" fill="#b868e0"/>
<polygon points="328.06,230.00 331.06,233.00 328.06,236.00 325.06,233.00" fill="#b868e0"/>
<polygon points="332.69,204.50 335.69,207.50 332.69,210.50 329.69,207.50" fill="#b868e0"/>
<polygon points="341.96,176.00 344.96,179.00 341.96,182.00 338.96,179.00" fill="#b868e0"/>
<polygon points="351.22,178.00 354.22,181.00 351.22,184.00 348.22,181.00" fill="#b868e0"/>
<polygon points="360.49,180.00 363.49,183.00 360.49,186.00 357.49,183.00" fill="#b868e0"/>
<polygon points="379.02,182.50 382.02,185.50 379.02,188.50 376.02,185.50" fill="#b868e0"/>
<polygon points="397.55,185.50 400.55,188.50 397.55,191.50 394.55,188.50" fill="#b868e0"/>
<polygon points="416.08,187.00 419.08,190.00 416.08,193.00 413.08,190.00" fill="#b868e0"/>
<polygon points="490.20,192.00 493.20,195.00 490.20,198.00 487.20,195.00" fill="#b868e0"/>
<path d="M304.90,240.50 C305.67,243.25 307.99,252.95 309.53,257.00 C311.08,261.05 312.62,264.85 314.16,264.80 C315.71,264.75 317.25,258.90 318.80,256.70 C320.34,254.50 321.89,254.55 323.43,251.60 C324.97,248.65 326.52,245.27 328.06,239.00 C329.61,232.73 330.38,224.17 332.69,214.00 C335.01,203.83 338.87,183.67 341.96,178.00 C345.05,172.33 348.14,179.17 351.22,180.00 C354.31,180.83 355.86,182.17 360.49,183.00 C365.12,183.83 372.84,184.17 379.02,185.00 C385.20,185.83 391.37,187.25 397.55,188.00 C403.73,188.75 400.64,188.37 416.08,189.50 C431.52,190.63 477.85,193.92 490.20,194.80" fill="none" stroke="#ebb857" stroke-width="0.9"/>
<polygon points="302.02,240.50 307.20,237.62 307.20,243.38" fill="#e39a0f"/>
<polygon points="306.66,257.00 311.83,254.12 311.83,259.88" fill="#e39a0f"/>
<polygon points="311.29,264.80 316.46,261.93 316.46,267.68" fill="#e39a0f"/>
<polygon points="315.92,256.70 321.10,253.82 321.10,259.57" fill="#e39a0f"/>
<polygon points="320.56,251.60 325.73,248.72 325.73,254.47" fill="#e39a0f"/>
<polygon points="325.19,239.00 330.36,236.12 330.36,241.88" fill="#e39a0f"/>
<polygon points="329.82,214.00 335.00,211.12 335.00,216.88" fill="#e39a0f"/>
<polygon points="339.08,178.00 344.26,175.12 344.26,180.88" fill="#e39a0f"/>
<polygon points="348.35,180.00 353.52,177.12 353.52,182.88" fill="#e39a0f"/>
<polygon points="357.62,183.00 362.79,180.12 362.79,185.88" fill="#e39a0f"/>
<polygon points="376.14,185.00 381.32,182.12 381.32,187.88" fill="#e39a0f"/>
<polygon points="394.68,188.00 399.85,185.12 399.85,190.88" fill="#e39a0f"/>
<polygon points="413.20,189.50 418.38,186.62 418.38,192.38" fill="#e39a0f"/>
<polygon points="487.33,194.80 492.50,191.93 492.50,197.68" fill="#e39a0f"/>
</g>
<line x1="304.90" y1="266.40" x2="308.90" y2="266.40" stroke="#111" stroke-width="1.1"/>
<line x1="304.90" y1="259.92" x2="307.10" y2="259.92" stroke="#111" stroke-width="1"/>
<line x1="304.90" y1="253.44" x2="307.10" y2="253.44" stroke="#111" stroke-width="1"/>
<line x1="304.90" y1="246.96" x2="307.10" y2="246.96" stroke="#111" stroke-width="1"/>
<line x1="304.90" y1="240.48" x2="307.10" y2="240.48" stroke="#111" stroke-width="1"/>
<text x="0" y="3.45" text-anchor="end" font-size="10.6" transform="translate(300.30 266.40) scale(1.02 1.1)">0.0</text>
<line x1="304.90" y1="234.00" x2="308.90" y2="234.00" stroke="#111" stroke-width="1.1"/>
<line x1="304.90" y1="227.52" x2="307.10" y2="227.52" stroke="#111" stroke-width="1"/>
<line x1="304.90" y1="221.04" x2="307.10" y2="221.04" stroke="#111" stroke-width="1"/>
<line x1="304.90" y1="214.56" x2="307.10" y2="214.56" stroke="#111" stroke-width="1"/>
<line x1="304.90" y1="208.08" x2="307.10" y2="208.08" stroke="#111" stroke-width="1"/>
<text x="0" y="3.45" text-anchor="end" font-size="10.6" transform="translate(300.30 234.00) scale(1.02 1.1)">0.5</text>
<line x1="304.90" y1="201.60" x2="308.90" y2="201.60" stroke="#111" stroke-width="1.1"/>
<line x1="304.90" y1="195.12" x2="307.10" y2="195.12" stroke="#111" stroke-width="1"/>
<line x1="304.90" y1="188.64" x2="307.10" y2="188.64" stroke="#111" stroke-width="1"/>
<line x1="304.90" y1="182.16" x2="307.10" y2="182.16" stroke="#111" stroke-width="1"/>
<line x1="304.90" y1="175.68" x2="307.10" y2="175.68" stroke="#111" stroke-width="1"/>
<text x="0" y="3.45" text-anchor="end" font-size="10.6" transform="translate(300.30 201.60) scale(1.02 1.1)">1.0</text>
<line x1="304.90" y1="169.20" x2="308.90" y2="169.20" stroke="#111" stroke-width="1.1"/>
<text x="0" y="3.45" text-anchor="end" font-size="10.6" transform="translate(300.30 169.20) scale(1.02 1.1)">1.5</text>
<line x1="304.90" y1="266.40" x2="304.90" y2="262.40" stroke="#111" stroke-width="1.1"/>
<line x1="316.48" y1="266.40" x2="316.48" y2="264.20" stroke="#111" stroke-width="1"/>
<line x1="328.06" y1="266.40" x2="328.06" y2="264.20" stroke="#111" stroke-width="1"/>
<text x="305.30" y="276.50" text-anchor="middle" font-size="10.4">0</text>
<line x1="339.64" y1="266.40" x2="339.64" y2="262.40" stroke="#111" stroke-width="1.1"/>
<line x1="351.22" y1="266.40" x2="351.22" y2="264.20" stroke="#111" stroke-width="1"/>
<line x1="362.81" y1="266.40" x2="362.81" y2="264.20" stroke="#111" stroke-width="1"/>
<text x="339.50" y="276.50" text-anchor="middle" font-size="10.4">W</text>
<line x1="374.39" y1="266.40" x2="374.39" y2="262.40" stroke="#111" stroke-width="1.1"/>
<line x1="385.97" y1="266.40" x2="385.97" y2="264.20" stroke="#111" stroke-width="1"/>
<line x1="397.55" y1="266.40" x2="397.55" y2="264.20" stroke="#111" stroke-width="1"/>
<text x="376.00" y="276.50" text-anchor="middle" font-size="10.4">2W</text>
<line x1="409.13" y1="266.40" x2="409.13" y2="262.40" stroke="#111" stroke-width="1.1"/>
<line x1="420.71" y1="266.40" x2="420.71" y2="264.20" stroke="#111" stroke-width="1"/>
<line x1="432.29" y1="266.40" x2="432.29" y2="264.20" stroke="#111" stroke-width="1"/>
<text x="410.00" y="276.50" text-anchor="middle" font-size="10.4">3W</text>
<line x1="443.88" y1="266.40" x2="443.88" y2="262.40" stroke="#111" stroke-width="1.1"/>
<line x1="455.46" y1="266.40" x2="455.46" y2="264.20" stroke="#111" stroke-width="1"/>
<line x1="467.04" y1="266.40" x2="467.04" y2="264.20" stroke="#111" stroke-width="1"/>
<text x="443.90" y="276.50" text-anchor="middle" font-size="10.4">4W</text>
<line x1="478.62" y1="266.40" x2="478.62" y2="262.40" stroke="#111" stroke-width="1.1"/>
<text x="477.60" y="276.50" text-anchor="middle" font-size="10.4">5W</text>
<rect x="304.90" y="169.20" width="185.30" height="97.20" fill="none" stroke="#111" stroke-width="1.2"/>
<text x="0" y="0" font-size="11" text-anchor="middle" dominant-baseline="central" transform="translate(282.50 221.10) rotate(-90)">α</text>
<text x="325.80" y="290.00" font-size="10.62">Location to center of bridge pylon</text>
<line x1="492.00" y1="180.20" x2="516.30" y2="180.20" stroke="#eec26f" stroke-width="1"/>
<polygon points="501.32,180.20 506.50,177.32 506.50,183.07" fill="#e39a0f"/>
<text x="0" y="3.45" font-size="10.6" transform="translate(519.20 180.20) scale(1.0 1.1)">1.20H</text>
<line x1="492.00" y1="193.30" x2="516.30" y2="193.30" stroke="#d4a4ec" stroke-width="1"/>
<polygon points="504.20,190.30 507.20,193.30 504.20,196.30 501.20,193.30" fill="#b868e0"/>
<text x="0" y="3.45" font-size="10.6" transform="translate(519.20 193.30) scale(1.0 1.1)">1.00H</text>
<line x1="492.00" y1="206.40" x2="516.30" y2="206.40" stroke="#75c8a1" stroke-width="1"/>
<polygon points="501.32,204.10 507.07,204.10 504.20,209.27" fill="#19a463"/>
<text x="0" y="3.45" font-size="10.6" transform="translate(519.20 206.40) scale(1.0 1.1)">0.80H</text>
<line x1="492.00" y1="219.50" x2="516.30" y2="219.50" stroke="#72a2f0" stroke-width="1"/>
<polygon points="501.32,221.80 507.07,221.80 504.20,216.62" fill="#1565e6"/>
<text x="0" y="3.45" font-size="10.6" transform="translate(519.20 219.50) scale(1.0 1.1)">0.60H</text>
<line x1="492.00" y1="232.60" x2="516.30" y2="232.60" stroke="#f68585" stroke-width="1"/>
<circle cx="504.20" cy="232.60" r="2.25" fill="#f03535"/>
<text x="0" y="3.45" font-size="10.6" transform="translate(519.20 232.60) scale(1.0 1.1)">0.50H</text>
<line x1="492.00" y1="245.70" x2="516.30" y2="245.70" stroke="#a8a8a8" stroke-width="1"/>
<rect x="502.20" y="243.70" width="4.00" height="4.00" fill="#6e6e6e"/>
<text x="0" y="3.45" font-size="10.6" transform="translate(519.20 245.70) scale(1.0 1.1)">0.40H</text>
<text x="171.8" y="152.8" font-size="12" style="stroke-width:0" textLength="15" lengthAdjust="spacingAndGlyphs">(<tspan font-weight="bold">a</tspan>)</text>
<text x="191" y="152.8" font-size="12" style="stroke-width:0" textLength="188.6" lengthAdjust="spacingAndGlyphs">Wind tunnel experimental result</text>
<text x="183.8" y="307.2" font-size="12" style="stroke-width:0" textLength="18" lengthAdjust="spacingAndGlyphs">(<tspan font-weight="bold">b</tspan>)</text>
<text x="204.2" y="307.2" font-size="12" style="stroke-width:0" textLength="163.5" lengthAdjust="spacingAndGlyphs">Numerical simulation result</text>
</svg>
</body></html>
